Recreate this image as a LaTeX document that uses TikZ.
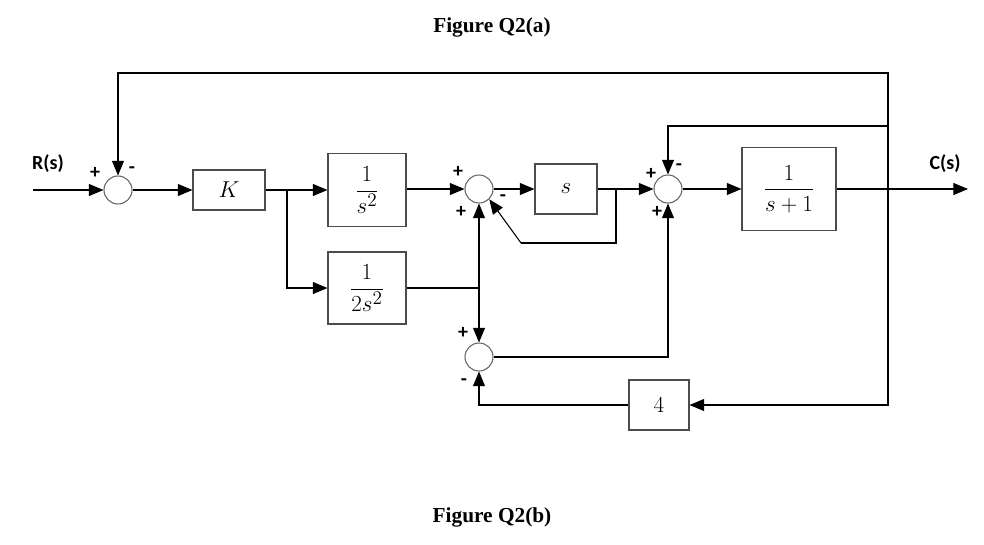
\documentclass[tikz,border=0pt]{standalone}
\usepackage{amsmath}
\usepackage{fontspec}
\setmainfont{Liberation Serif}
\newfontfamily\lbl{Carlito}
\usetikzlibrary{arrows.meta}
\begin{document}
\begin{tikzpicture}[x=0.75pt,y=-0.75pt,
  blk/.style={draw=black!70,thick,inner sep=0pt,font=\fontsize{19}{22}\selectfont},
  sumj/.style={draw=black!60,thick,circle,minimum size=28*0.75pt,inner sep=0pt},
  sig/.style={font=\lbl\bfseries\fontsize{15}{18}\selectfont},
  line/.style={draw=black,thick},
  flow/.style={line,-{Triangle[length=11pt,width=9pt]}}]
\useasboundingbox (0,0) rectangle (984,544);
% titles
\node[font=\bfseries\fontsize{16}{19}\selectfont] (ta) at (492,27) {Figure Q2(a)};
\node[font=\bfseries\fontsize{16}{19}\selectfont] (tb) at (492,517) {Figure Q2(b)};
% blocks
\node[blk,minimum width=72*0.75pt,minimum height=40*0.75pt] (k) at (229,190) {$K$};
\node[blk,minimum width=78*0.75pt,minimum height=73*0.75pt] (g1) at (367,190) {$\dfrac{1}{s^2}$};
\node[blk,minimum width=78*0.75pt,minimum height=72*0.75pt] (g2) at (367,288) {$\dfrac{1}{2s^2}$};
\node[blk,minimum width=62*0.75pt,minimum height=50*0.75pt] (gs) at (566,189) {$s$};
\node[blk,minimum width=94*0.75pt,minimum height=83*0.75pt] (g3) at (789,189) {$\dfrac{1}{s+1}$};
\node[blk,minimum width=60*0.75pt,minimum height=50*0.75pt] (g4) at (659,405) {$4$};
% summing junctions
\node[sumj] (s1) at (118,190) {};
\node[sumj] (s2) at (479,189) {};
\node[sumj] (s3) at (668,189) {};
\node[sumj] (s4) at (479,357) {};
% signal labels
\node[sig] (rs) at (48,164) {R(s)};
\node[sig] (cs) at (945,164) {C(s)};
\coordinate (rin) at (33,190);
\coordinate (cout) at (968,189);
% forward path
\draw[flow] (rin) -- (s1);
\draw[flow] (s1) -- (k);
\draw[flow] (k) -- (g1);
\draw[flow] (g1.east |- s2) -- (s2);
\draw[flow] (s2) -- (gs);
\draw[flow] (gs) -- (s3);
\draw[flow] (s3) -- (g3);
\draw[flow] (g3.east |- cout) -- (cout);
% branches
\coordinate (bk) at (287,190);
\draw[flow] (bk) |- (g2);
\coordinate (j2) at (479,288);
\draw[line] (g2) -- (j2);
\draw[flow] (j2) -- (s2);
\draw[flow] (j2) -- (s4);
\coordinate (bs) at (616,189);
\coordinate (bs2) at (521,243);
\draw[line] (bs) |- (bs2);
\draw[flow] (bs2) -- (s2.-45);
\draw[flow] (s4) -| (s3);
% feedback
\coordinate (fo) at (888,189);
\draw[flow] (fo) |- (118,73) -- (s1);
\draw[flow] (888,126) -| (s3);
\draw[flow] (fo) |- (g4);
\draw[flow] (g4) -| (s4);
% signs
\node[sig] (p1) at (95,173) {+};
\node[sig] (m1) at (132,170) {-};
\node[sig] (p2) at (458,172) {+};
\node[sig] (p2b) at (461,212) {+};
\node[sig] (m2) at (503,198) {-};
\node[sig] (p3) at (651,174) {+};
\node[sig] (m3) at (679,167) {-};
\node[sig] (p3b) at (657,212) {+};
\node[sig] (p4) at (463,333) {+};
\node[sig] (m4) at (464,382) {-};
\end{tikzpicture}
\end{document}
